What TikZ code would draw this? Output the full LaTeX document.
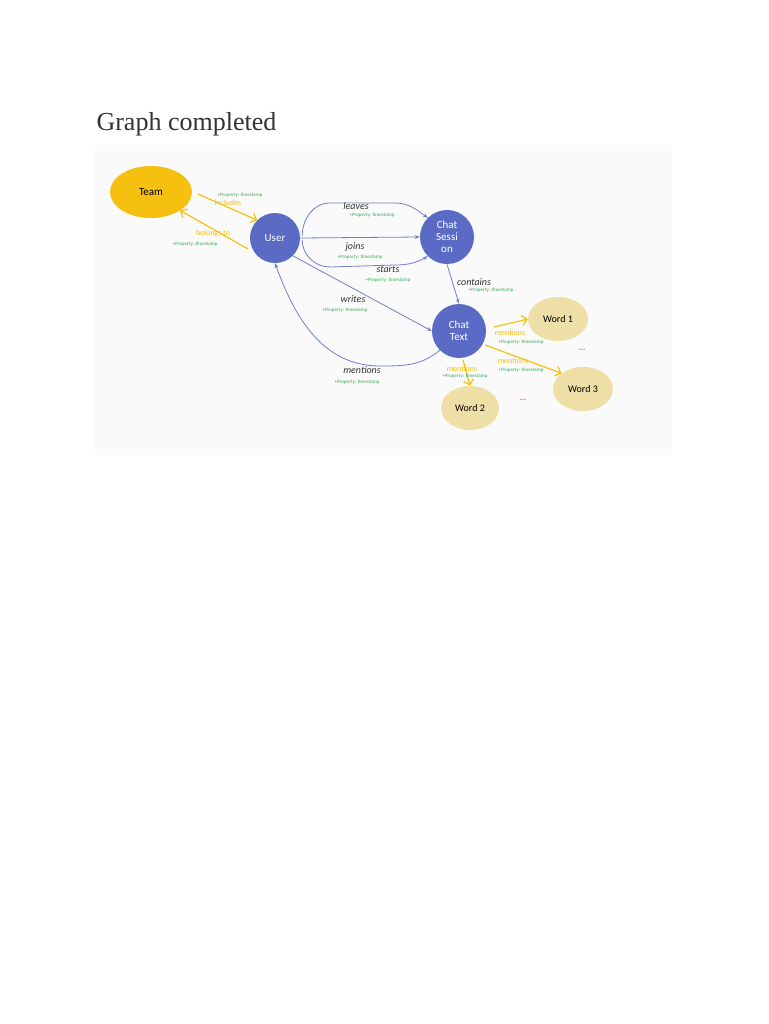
\documentclass[tikz,border=0pt]{standalone}
\usepackage{fontspec}
\setmainfont{Liberation Serif}
\newfontfamily\calfont{Carlito}
\usetikzlibrary{shapes.geometric,arrows.meta}
\definecolor{nodeblue}{HTML}{5B6BC5}
\definecolor{edgeblue}{HTML}{7080C8}
\definecolor{wordfill}{HTML}{EEDFA6}
\definecolor{yel}{HTML}{F5C010}
\definecolor{propgreen}{HTML}{3AA655}
\begin{document}
\begin{tikzpicture}[x=1pt,y=-1pt,
  blue node/.style={circle,fill=nodeblue,text=white,font=\calfont\fontsize{11}{12}\selectfont,align=center,inner sep=0pt},
  word/.style={ellipse,fill=wordfill,font=\calfont\fontsize{10}{11}\selectfont,minimum width=60pt,minimum height=44pt,inner sep=0pt},
  bl/.style={draw=edgeblue,line width=0.8pt,-{Stealth[length=5pt]}},
  yl/.style={draw=yel,line width=1.2pt,-{Straight Barb[length=5pt]}},
  lab/.style={font=\calfont\itshape\fontsize{10}{11}\selectfont,text=black!80},
  ylab/.style={font=\calfont\fontsize{8}{9}\selectfont,text=yel},
  prop/.style={font=\calfont\fontsize{5}{6}\selectfont,text=propgreen}]
\useasboundingbox (0,0) rectangle (768,1024);
\fill[white] (0,0) rectangle (768,1024);
\fill[black!2] (95,145) rectangle (672,455);
\node[anchor=base west,font=\fontsize{26}{28}\selectfont,text=black!80] (title) at (93,131) {Graph completed};
\node[ellipse,fill=yel,minimum width=82pt,minimum height=52pt,font=\calfont\fontsize{11}{12}\selectfont] (team) at (151,192) {Team};
\node[blue node,minimum size=50pt] (user) at (275,238) {User};
\node[blue node,minimum size=54pt] (cs) at (447,237) {Chat\\Sessi\\on};
\node[blue node,minimum size=54pt] (ct) at (459,331) {Chat\\Text};
\node[word] (w1) at (558,319) {Word 1};
\node[word] (w3) at (583,389) {Word 3};
\node[word,minimum width=58pt] (w2) at (470,408) {Word 2};
% team edges
\coordinate (a1) at (198,194);
\coordinate (a2) at (248,249);
\draw[yl] (a1) -- (user.north west);
\draw[yl] (a2) -- (team.south east);
\node[ylab] (inc) at (228,203) {includes};
\node[prop] (pinc) at (240,195) {+Property: timestamp};
\node[ylab] (bel) at (213,233) {belongs to};
\node[prop] (pbel) at (195,244) {+Property: timestamp};
% user-session
\draw[bl] (user.east) ++(2,-2) to[out=90,in=180] (330,203) -- (395,203) to[out=0,in=145] (cs.north west);
\draw[bl] (user.east) -- (cs.west);
\draw[bl] (user.east) ++(2,2) to[out=-90,in=180] (330,267) -- (395,265) to[out=0,in=-150] (cs.south west);
\node[lab] (lv) at (356,206) {leaves};
\node[prop] (plv) at (372,215) {+Property: timestamp};
\node[lab] (jn) at (355,247) {joins};
\node[prop] (pjn) at (360,257) {+Property: timestamp};
\node[lab] (st) at (388,269) {starts};
\node[prop] (pst) at (388,280) {+Property: timestamp};
\draw[bl] (user.south east) -- (ct.west);
\node[lab] (wr) at (353,299) {writes};
\node[prop] (pwr) at (345,310) {+Property: timestamp};
\draw[bl] (cs.south) -- (ct.north);
\node[lab] (co) at (474,282) {contains};
\node[prop] (pco) at (491,290) {+Property: timestamp};
\draw[bl] (ct.south west) to[out=-140,in=0] (380,366) to[out=180,in=-70] (user.south);
\node[lab] (mu) at (362,370) {mentions};
\node[prop] (pmu) at (357,382) {+Property: timestamp};
% word edges
\coordinate (b1) at (494,327);
\coordinate (b2) at (463,360);
\coordinate (b3) at (485,345);
\draw[yl] (b1) -- (w1.west);
\node[ylab] (m1) at (510,333) {mentions};
\node[prop] (pm1) at (521,342) {+Property: timestamp};
\draw[yl] (b2) -- (w2.north);
\node[ylab] (m2) at (462,369) {mentions};
\node[prop] (pm2) at (465,376) {+Property: timestamp};
\draw[yl] (b3) -- (w3.north west);
\node[ylab] (m3) at (513,361) {mentions};
\node[prop] (pm3) at (521,370) {+Property: timestamp};
\node[text=orange,font=\bfseries\fontsize{9}{9}\selectfont] (d1) at (582,350) {...};
\node[text=orange,font=\bfseries\fontsize{9}{9}\selectfont] (d2) at (523,400) {...};
\end{tikzpicture}
\end{document}
